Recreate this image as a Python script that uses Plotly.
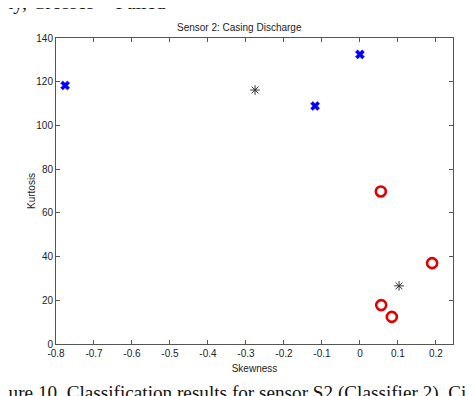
import plotly.graph_objects as go

# Data
healthy_skew = [-0.776, -0.118, 0.0]
healthy_kurt = [118.3, 108.9, 132.5]

unknown_skew = [-0.276, 0.103]
unknown_kurt = [116.2, 26.6]

failed_skew = [0.055, 0.19, 0.056, 0.084]
failed_kurt = [69.8, 37.0, 17.8, 12.4]

x_ticks = [-0.8, -0.7, -0.6, -0.5, -0.4, -0.3, -0.2, -0.1, 0, 0.1, 0.2]
y_ticks = [0, 20, 40, 60, 80, 100, 120, 140]

# page body adds an 8px offset; figure sized to compensate
OFF = 8
L, T, R, B = 48, 30, 21, 52
W, H = 466, 388
PW, PH = W - L - R, H - T - B


def px(sx):
    return (sx - OFF - L) / PW


def py(sy):
    return (H - B - (sy - OFF)) / PH


fig = go.Figure()
fig.add_trace(go.Scatter(x=healthy_skew, y=healthy_kurt, mode="markers",
                         marker=dict(symbol="x", size=8, color="#0000ff",
                                     line=dict(width=0.5, color="#0000ff"))))
fig.add_trace(go.Scatter(x=unknown_skew, y=unknown_kurt, mode="markers",
                         marker=dict(symbol="asterisk-open", size=8, color="#333333",
                                     line=dict(width=1, color="#333333"))))
fig.add_trace(go.Scatter(x=failed_skew, y=failed_kurt, mode="markers",
                         marker=dict(symbol="circle-open", size=10, color="#e00000",
                                     line=dict(width=2.6, color="#e00000"))))

axis_common = dict(showgrid=False, zeroline=False, showline=True, linecolor="#555555",
                   linewidth=1, mirror="ticks", ticks="inside", ticklen=4,
                   tickcolor="#555555", tickfont=dict(family="Liberation Sans", size=10, color="#222222"))

fig.update_xaxes(range=[-0.8, 0.245], tickvals=x_ticks, ticktext=[f"{v:g}" for v in x_ticks],
                 title=dict(text="Skewness", font=dict(family="Liberation Sans", size=10, color="#222222"),
                            standoff=6),
                 **axis_common)
fig.update_yaxes(range=[0, 140], tickvals=y_ticks, **axis_common)

fig.update_layout(
    width=W, height=H,
    margin=dict(l=L, r=R, t=T, b=B),
    paper_bgcolor="white", plot_bgcolor="white",
    showlegend=False,
    title=dict(text="Sensor 2: Casing Discharge", x=px(253), xanchor="center",
               y=1 - (27 - OFF) / H, yanchor="middle",
               font=dict(family="Liberation Sans", size=10, color="#222222")),
    annotations=[
        dict(text="Kurtosis", xref="paper", yref="paper", x=px(31), y=py(191),
             xanchor="center", yanchor="middle", textangle=-90, showarrow=False,
             font=dict(family="Liberation Sans", size=10, color="#222222")),
        dict(text="Healthy, Crosses = Failed", xref="paper", yref="paper",
             x=px(168), y=py(3), xanchor="right", yanchor="middle",
             showarrow=False, font=dict(family="Liberation Serif", size=20, color="#111111")),
        dict(text="Figure 10. Classification results for sensor S2 (Classifier 2). Circles",
             xref="paper", yref="paper",
             x=px(-19), y=py(393), xanchor="left", yanchor="middle",
             showarrow=False, font=dict(family="Liberation Serif", size=19.2, color="#111111")),
    ],
)

fig.write_html("out.html")
